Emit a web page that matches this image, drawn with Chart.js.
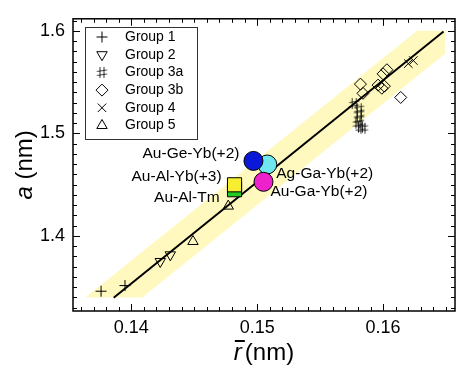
<!DOCTYPE html>
<html>
<head>
<meta charset="utf-8">
<script src="https://cdn.jsdelivr.net/npm/chart.js@4.4.1/dist/chart.umd.min.js"></script>
<style>
  body { margin: 0; background: #fff; }
  canvas { display: block; }
</style>
</head>
<body>
<canvas id="chart" width="474" height="375"></canvas>
<script>
// values (r in nm, a in nm)
const group1R = [0.1376, 0.1395];
const group1A = [1.3460, 1.3515];
const group2R = [0.1423, 0.1431];
const group2A = [1.3750, 1.3815];
const group3aR = [0.1577, 0.1581, 0.1581, 0.1581, 0.1580, 0.1582, 0.1584];
const group3aA = [1.529, 1.524, 1.519, 1.514, 1.510, 1.506, 1.505];
const group3bR = [0.1582, 0.1584, 0.1596, 0.1599, 0.1601, 0.1600, 0.1603, 0.1614];
const group3bA = [1.548, 1.539, 1.547, 1.544, 1.546, 1.558, 1.562, 1.535];
const group4R = [0.1620, 0.1624];
const group4A = [1.568, 1.571];
const group5R = [0.1449, 0.1477];
const group5A = [1.3945, 1.4290];

// the highlighted alloys
const alloyNames = ['Au-Al-Tm', 'Au-Al-Yb(+3)', 'Ag-Ga-Yb(+2)', 'Au-Ge-Yb(+2)', 'Au-Ga-Yb(+2)'];
const alloyR = [0.1482, 0.1482, 0.1508, 0.1497, 0.1505];
const alloyA = [1.4450, 1.4498, 1.4696, 1.4731, 1.4527];

// fitted line and the band around it
const fitR = [0.1386, 0.1648];
const fitA = [1.3396, 1.5993];
const bandR = [0.13635, 0.16270, 0.16492, 0.16492, 0.14087, 0.13635];
const bandA = [1.3398, 1.6000, 1.6000, 1.5777, 1.3398, 1.3398];

const xTicks = [0.14, 0.15, 0.16];
const yTicks = [1.4, 1.5, 1.6];
const legendLabels = ['Group 1', 'Group 2', 'Group 3a', 'Group 3b', 'Group 4', 'Group 5'];

const FONT = "'Liberation Sans', Arial, Helvetica, sans-serif";

function pts(rs, as) {
    return rs.map((r, i) => ({ x: r, y: as[i] }));
}

// sharp sign marker for group 3a
function makeHash() {
    const c = document.createElement('canvas');
    c.width = 13; c.height = 13;
    const g = c.getContext('2d');
    g.strokeStyle = '#000';
    g.lineWidth = 0.8;
    g.beginPath();
    g.moveTo(4.5, 1); g.lineTo(4.5, 12);
    g.moveTo(8.5, 1); g.lineTo(8.5, 12);
    g.moveTo(1.5, 5.5); g.lineTo(11.5, 4);
    g.moveTo(1.5, 9.5); g.lineTo(11.5, 8);
    g.stroke();
    return c;
}
const hashMark = makeHash();

function openMarker(label, data, style, radius, rotation) {
    return {
        label: label,
        data: data,
        pointStyle: style,
        pointRadius: radius,
        pointRotation: rotation || 0,
        backgroundColor: 'rgba(0,0,0,0)',
        borderColor: '#000',
        borderWidth: 1,
        order: 10
    };
}

function filledMarker(i, style, radius, color, order) {
    return {
        label: alloyNames[i],
        data: [{ x: alloyR[i], y: alloyA[i] }],
        pointStyle: style,
        pointRadius: radius,
        backgroundColor: color,
        borderColor: '#000',
        borderWidth: 1,
        order: order
    };
}

const datasets = [
    openMarker('Group 1', pts(group1R, group1A), 'cross', 5.5),
    openMarker('Group 2', pts(group2R, group2A), 'triangle', 6, 180),
    openMarker('Group 3a', pts(group3aR, group3aA), hashMark, 6),
    openMarker('Group 3b', pts(group3bR, group3bA), 'rectRot', 6),
    openMarker('Group 4', pts(group4R, group4A), 'crossRot', 6),
    openMarker('Group 5', pts(group5R, group5A), 'triangle', 6),
    filledMarker(0, 'rect', 10, '#22cc22', 6),
    filledMarker(1, 'rect', 10, '#f8ee30', 5),
    filledMarker(2, 'circle', 9.5, '#70e6ee', 4),
    filledMarker(3, 'circle', 9.5, '#0a18d8', 3),
    filledMarker(4, 'circle', 9.5, '#ee22cc', 2),
    {
        type: 'line',
        label: 'fit',
        data: pts(fitR, fitA),
        borderColor: '#000',
        borderWidth: 2,
        pointRadius: 0,
        fill: false,
        order: 15
    },
    {
        type: 'line',
        label: 'band',
        data: pts(bandR, bandA),
        borderWidth: 0,
        borderColor: 'rgba(0,0,0,0)',
        backgroundColor: 'rgb(255,249,192)',
        pointRadius: 0,
        fill: 'shape',
        order: 20
    }
];

// ticks pointing inwards on all four sides, plus the frame
const frameTicks = {
    id: 'frameTicks',
    afterDatasetsDraw(chart) {
        const { ctx, chartArea: a, scales: { x, y } } = chart;
        ctx.save();
        ctx.strokeStyle = '#000';
        ctx.lineWidth = 1;
        ctx.beginPath();
        for (let k = 136; k <= 165; k++) {
            const px = Math.round(x.getPixelForValue(k / 1000)) + 0.5;
            const len = k % 10 === 0 ? 7 : 4;
            ctx.moveTo(px, a.bottom); ctx.lineTo(px, a.bottom - len);
            ctx.moveTo(px, a.top); ctx.lineTo(px, a.top + len);
        }
        for (let k = 133; k <= 161; k++) {
            const py = Math.round(y.getPixelForValue(k / 100)) + 0.5;
            const len = k % 10 === 0 ? 7 : 4;
            ctx.moveTo(a.left, py); ctx.lineTo(a.left + len, py);
            ctx.moveTo(a.right, py); ctx.lineTo(a.right - len, py);
        }
        ctx.stroke();
        ctx.lineWidth = 1.5;
        ctx.strokeRect(a.left, a.top, a.right - a.left, a.bottom - a.top);
        ctx.restore();
    }
};

// legend box in the upper left corner
const legendBox = {
    id: 'legendBox',
    afterDraw(chart) {
        const ctx = chart.ctx;
        ctx.save();
        ctx.fillStyle = '#fff';
        ctx.fillRect(85, 27, 112, 112);
        ctx.strokeStyle = '#333';
        ctx.lineWidth = 1;
        ctx.strokeRect(85.5, 27.5, 112, 112);
        ctx.font = '14px ' + FONT;
        ctx.textBaseline = 'middle';
        legendLabels.forEach((label, i) => {
            const ds = chart.data.datasets[i];
            const yy = 37 + i * 17.7;
            ctx.strokeStyle = '#000';
            ctx.fillStyle = 'rgba(0,0,0,0)';
            Chart.helpers.drawPoint(ctx, {
                pointStyle: ds.pointStyle,
                radius: ds.pointRadius,
                rotation: ds.pointRotation,
                borderWidth: 1
            }, 102, yy);
            ctx.fillStyle = '#000';
            ctx.fillText(label, 125, yy);
        });
        ctx.restore();
    }
};

// names next to the coloured markers
const labelOffsets = [[-15, 8, 'right'], [-13, -8, 'right'], [9, 9, 'left'], [-14, -7, 'right'], [7, 10, 'left']];
const alloyLabels = {
    id: 'alloyLabels',
    afterDatasetsDraw(chart) {
        const { ctx, scales: { x, y } } = chart;
        ctx.save();
        ctx.font = '15.5px ' + FONT;
        ctx.fillStyle = '#000';
        ctx.textBaseline = 'middle';
        alloyNames.forEach((name, i) => {
            const [dx, dy, align] = labelOffsets[i];
            ctx.textAlign = align;
            ctx.fillText(name, x.getPixelForValue(alloyR[i]) + dx, y.getPixelForValue(alloyA[i]) + dy);
        });
        ctx.restore();
    }
};

// axis titles with italic symbols
const axisTitles = {
    id: 'axisTitles',
    afterDraw(chart) {
        const ctx = chart.ctx;
        const a = chart.chartArea;
        ctx.save();
        ctx.fillStyle = '#000';
        ctx.strokeStyle = '#000';
        ctx.textBaseline = 'alphabetic';
        ctx.textAlign = 'left';

        // x title: r-bar (nm)
        const italic = 'italic 24px ' + FONT;
        const plain = '24px ' + FONT;
        ctx.font = italic;
        const wr = ctx.measureText('r').width;
        ctx.font = plain;
        const wn = ctx.measureText('(nm)').width;
        const cx = (a.left + a.right) / 2;
        let sx = cx - (wr + 3 + wn) / 2;
        const base = 360;
        ctx.font = italic;
        ctx.fillText('r', sx, base);
        ctx.lineWidth = 2;
        ctx.beginPath();
        ctx.moveTo(sx + 1, base - 19);
        ctx.lineTo(sx + wr + 3, base - 19);
        ctx.stroke();
        ctx.font = plain;
        ctx.fillText('(nm)', sx + wr + 3, base);

        // y title: a (nm)
        ctx.translate(32, (a.top + a.bottom) / 2);
        ctx.rotate(-Math.PI / 2);
        ctx.font = italic;
        const wa = ctx.measureText('a ').width;
        ctx.font = plain;
        const wy = ctx.measureText('(nm)').width;
        let sy = -(wa + wy) / 2;
        ctx.font = italic;
        ctx.fillText('a ', sy, 0);
        ctx.font = plain;
        ctx.fillText('(nm)', sy + wa, 0);
        ctx.restore();
    }
};

new Chart(document.getElementById('chart'), {
    type: 'scatter',
    data: { datasets: datasets },
    options: {
        responsive: false,
        animation: false,
        layout: { padding: { top: 18, right: 19, left: 0, bottom: 0 } },
        plugins: {
            legend: { display: false },
            tooltip: { enabled: false }
        },
        scales: {
            x: {
                type: 'linear',
                min: 0.13537,
                max: 0.16571,
                grid: { display: false, drawTicks: false },
                border: { display: false },
                ticks: {
                    color: '#000',
                    font: { family: FONT, size: 18 },
                    padding: 6,
                    callback: v => v.toFixed(2)
                },
                afterBuildTicks: s => { s.ticks = xTicks.map(v => ({ value: v })); },
                afterFit: s => { s.height = 64; }
            },
            y: {
                type: 'linear',
                min: 1.3267,
                max: 1.6117,
                grid: { display: false, drawTicks: false },
                border: { display: false },
                ticks: {
                    color: '#000',
                    font: { family: FONT, size: 18 },
                    padding: 8,
                    callback: v => v.toFixed(1)
                },
                afterBuildTicks: s => { s.ticks = yTicks.map(v => ({ value: v })); },
                afterFit: s => { s.width = 73; }
            }
        }
    },
    plugins: [frameTicks, alloyLabels, legendBox, axisTitles]
});
</script>
</body>
</html>
